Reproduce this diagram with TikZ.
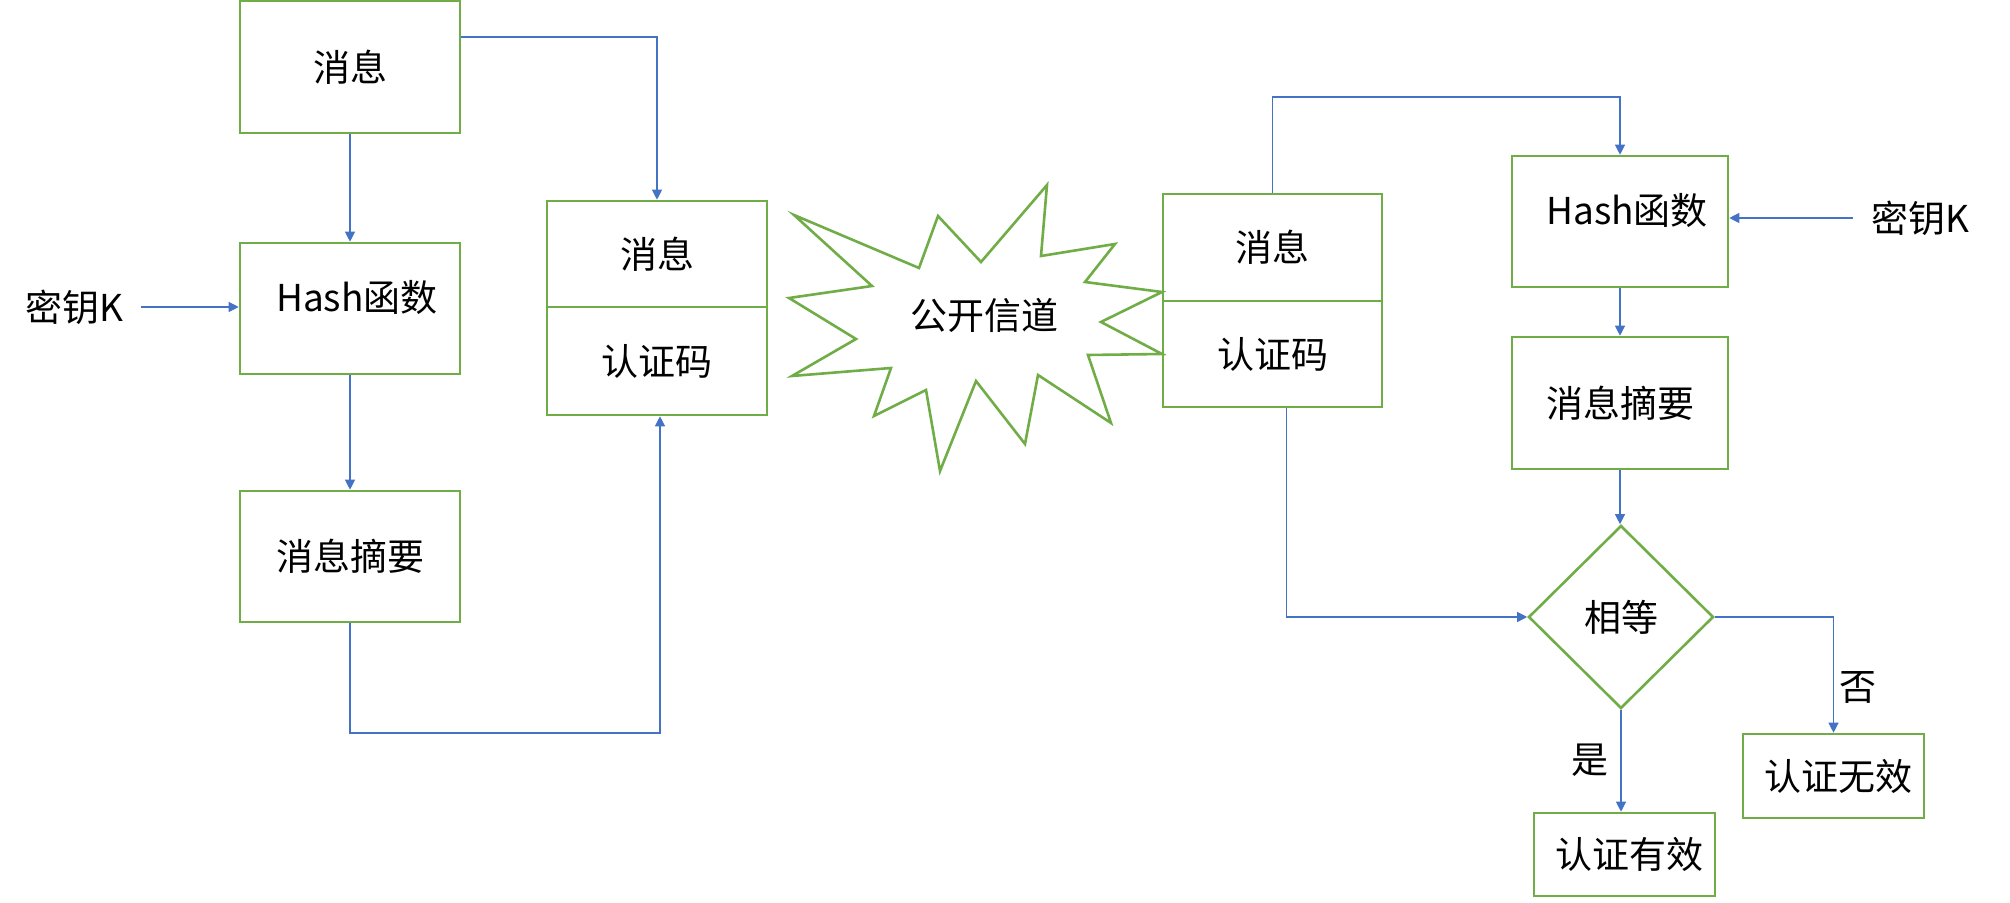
\documentclass[tikz,border=0pt]{standalone}
\usepackage{fontspec}
\setmainfont{Noto Sans CJK SC}
\usetikzlibrary{arrows.meta,shapes.geometric}
\definecolor{boxgreen}{RGB}{112,173,71}
\definecolor{lineblue}{RGB}{68,114,196}

\tikzset{
    box/.style={draw=boxgreen,line width=1.3pt,inner sep=0pt,font=\fontsize{18.5}{22}\selectfont},
    arr/.style={draw=lineblue,line width=0.6pt,-{Triangle[length=5pt,width=5pt]}},
    txt/.style={font=\fontsize{18.5}{22}\selectfont,inner sep=0pt}
}

\begin{document}
\begin{tikzpicture}[x=0.5pt,y=-0.5pt]
        \useasboundingbox (0,0) rectangle (2010,903);

        \node[box,minimum width=110pt,minimum height=66pt] (msgA) at (350,67) {消息};
        \node[box,minimum width=110pt,minimum height=65.5pt,label={[txt,xshift=3.5pt,yshift=5.5pt]center:Hash函数}] (hashA) at (350,308.5) {};
        \node[box,minimum width=110pt,minimum height=65.5pt] (digestA) at (350,556.5) {消息摘要};
        \node[txt] (keyA) at (74,307) {密钥K};
        \node[box,minimum width=110pt,minimum height=53pt] (macAmsg) at (657,254) {消息};
        \node[box,minimum width=110pt,minimum height=54pt] (macAcode) at (657,361) {认证码};

        \draw[draw=boxgreen,line width=1.3pt,fill=white] (794,215) -- (919,268) -- (938,216) -- (981,262) -- (1047,185) -- (1041,256)
            -- (1115,244) -- (1085,282) -- (1162,292) -- (1101,322) -- (1162,354) -- (1088,355) -- (1111,423) -- (1038,375)
            -- (1025,444) -- (976,381) -- (940,471) -- (926,390) -- (874,416) -- (891,368) -- (792,376) -- (856,339)
            -- (789,298) -- (872,286) -- cycle;
        \node[txt] (channel) at (984,315) {公开信道};

        \node[box,minimum width=109.5pt,minimum height=53.5pt] (macBmsg) at (1272.5,247.5) {消息};
        \node[box,minimum width=109.5pt,minimum height=53pt] (macBcode) at (1272.5,354) {认证码};
        \node[box,minimum width=108pt,minimum height=65.5pt,label={[txt,xshift=3.5pt,yshift=5.5pt]center:Hash函数}] (hashB) at (1620,221.5) {};
        \node[txt] (keyB) at (1920,218) {密钥K};
        \node[box,minimum width=108pt,minimum height=66pt] (digestB) at (1620,403) {消息摘要};
        \node[box,diamond,minimum width=92.5pt,minimum height=91.5pt] (equal) at (1621,617) {相等};
        \node[box,minimum width=90.5pt,minimum height=41.5pt] (valid) at (1624.5,854.5) {\hspace*{5pt}认证有效};
        \node[box,minimum width=90.5pt,minimum height=42pt] (invalid) at (1833.5,776) {\hspace*{5pt}认证无效};

        \coordinate (loopA) at (660,733);
        \coordinate (topB) at (1274,97);

        \draw[arr] (msgA) -- (hashA);
        \draw[arr,shorten <=9pt] (keyA.east) -- (keyA.east -| hashA.west);
        \draw[arr] (hashA) -- (digestA);
        \draw[arr] (digestA.south) |- (loopA) -- (loopA |- macAcode.south);
        \draw[arr] ([yshift=15pt]msgA.east) -| (macAmsg.north);

        \draw[arr] (macBmsg.north) |- (hashB.north |- topB) -- (hashB.north);
        \draw[arr,shorten <=9pt] (keyB.west) -- (keyB.west -| hashB.east);
        \draw[arr] (hashB) -- (digestB);
        \draw[arr] (digestB.south) -- (digestB.south |- equal.north);
        \draw[arr] ([xshift=7pt]macBcode.south) |- (equal.west);
        \draw[arr] (equal.south) -- (equal.south |- valid.north);
        \draw[arr] (equal.east) -| (invalid.north);

        \node[txt] (yes) at (1590,760) {是};
        \node[txt] (no) at (1858,687) {否};
    \end{tikzpicture}
\end{document}
